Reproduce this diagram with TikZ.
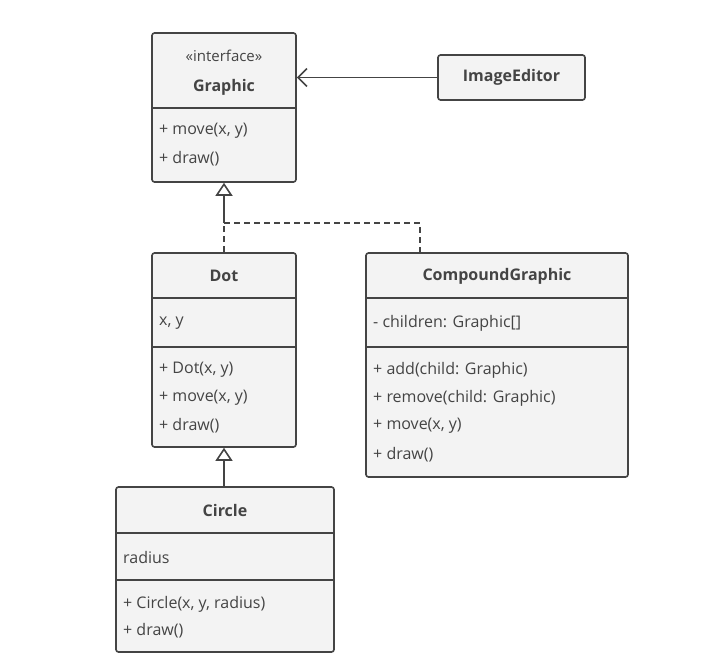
\documentclass[tikz,border=0pt]{standalone}
\usepackage{fontspec}
\setmainfont{Open Sans}
\usetikzlibrary{arrows.meta}
\definecolor{ink}{HTML}{444444}
\definecolor{fillc}{HTML}{F3F3F3}
\begin{document}
\begin{tikzpicture}[x=1pt,y=-1pt,
  box/.style={draw=ink,line width=1.6pt,fill=fillc,rounded corners=2.5pt,inner sep=0pt},
  sep/.style={draw=ink,line width=1.6pt},
  txt/.style={text=ink,font=\fontsize{16}{18}\selectfont,inner sep=0pt,anchor=west},
  ttl/.style={text=ink,font=\fontsize{16}{18}\selectfont\bfseries,inner sep=0pt},
  inh/.style={-{Triangle[open,length=13pt,width=17pt]},draw=ink,line width=1.6pt},
  dsh/.style={draw=ink,line width=1.6pt,dash pattern=on 6pt off 4pt}]
\useasboundingbox (0,0) rectangle (701,666);
\fill[white] (0,0) rectangle (701,666);
% Graphic
\node[box,minimum width=144pt,minimum height=149pt] (g) at (224,107.5) {};
\draw[sep] (152,108) -- (296,108);
\node[text=ink,font=\fontsize{15}{18}\selectfont,inner sep=0pt] (gs) at (224,56) {«interface»};
\node[ttl] (gt) at (224,87) {Graphic};
\node[txt] (g1) at (159,131) {+ move(x, y)};
\node[txt] (g2) at (159,159) {+ draw()};
% ImageEditor
\node[box,minimum width=147pt,minimum height=45pt] (ie) at (511.5,77.5) {};
\node[ttl] at (ie) {ImageEditor};
% Dot
\node[box,minimum width=144pt,minimum height=194pt] (d) at (224,350) {};
\draw[sep] (152,298) -- (296,298);
\draw[sep] (152,347) -- (296,347);
\node[ttl] (dt) at (224,276) {Dot};
\node[txt] (d0) at (159,323) {x, y};
\node[txt] (d1) at (159,370) {+ Dot(x, y)};
\node[txt] (d2) at (159,398) {+ move(x, y)};
\node[txt] (d3) at (159,426) {+ draw()};
% CompoundGraphic
\node[box,minimum width=262pt,minimum height=224pt] (c) at (497,365) {};
\draw[sep] (366,298) -- (628,298);
\draw[sep] (366,347) -- (628,347);
\node[ttl] (ct) at (497,276) {CompoundGraphic};
\node[txt] (c0) at (373,323) {- children: Graphic[]};
\node[txt] (c1) at (373,370) {+ add(child: Graphic)};
\node[txt] (c2) at (373,398) {+ remove(child: Graphic)};
\node[txt] (c3) at (373,426) {+ move(x, y)};
\node[txt] (c4) at (373,455) {+ draw()};
% Circle
\node[box,minimum width=218pt,minimum height=165pt] (ci) at (225,569.5) {};
\draw[sep] (116,533) -- (334,533);
\draw[sep] (116,580) -- (334,580);
\node[ttl] (cit) at (225,510) {Circle};
\node[txt] (ci0) at (123,557) {radius};
\node[txt] (ci1) at (123,604) {+ Circle(x, y, radius)};
\node[txt] (ci2) at (123,631) {+ draw()};
% connectors
\draw[draw=ink,line width=1.6pt,-{Straight Barb[length=9pt,width=18pt]}] (ie.west) -- (g.east |- ie.west);
\coordinate (j) at (224,223);
\draw[dsh] (d.north) -- (j);
\draw[dsh] (j) -| (c.north -| 420,0);
\draw[inh] (j) -- (g.south);
\draw[inh] (ci.north -| d.south) -- (d.south);
\end{tikzpicture}
\end{document}
